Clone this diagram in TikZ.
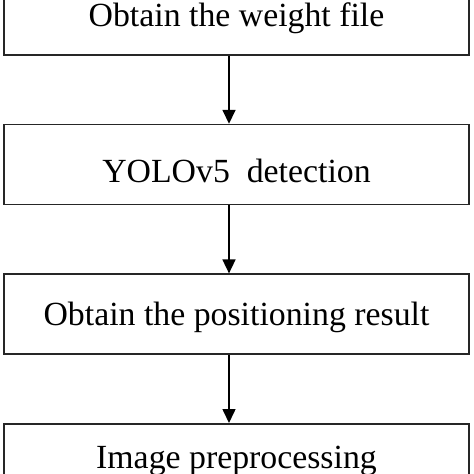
\documentclass[tikz,border=0pt]{standalone}
\usepackage{fontspec}
\setmainfont{Liberation Serif}
\usetikzlibrary{positioning,arrows.meta}

\begin{document}
\begin{tikzpicture}[x=1pt, y=1pt, node distance={68pt}, line width=1.6pt, >={Triangle[width=13pt,length=14pt]},
  main/.style = {draw=black!85, rectangle, minimum width=465pt, minimum height=80pt, inner sep=0pt, text height=23pt, text depth=0pt, font=\fontsize{33.8}{40}\selectfont}]
\useasboundingbox (0,0) rectangle (474,-474);
\clip (0,0) rectangle (474,-474);
\node[main] (1) at (236.5,-15) {Obtain the weight file};
\node[main, text height=35pt] (2) [below=of 1] {YOLOv5\ \ detection};
\node[main] (3) [below=of 2] {Obtain the positioning result};
\node[main, text depth=13pt] (4) [below=of 3] {Image preprocessing};
\draw[->] ([xshift=-7.5pt]1.south) -- ([xshift=-7.5pt]2.north);
\draw[->] ([xshift=-7.5pt]2.south) -- ([xshift=-7.5pt]3.north);
\draw[->] ([xshift=-7.5pt]3.south) -- ([xshift=-7.5pt]4.north);
\end{tikzpicture}
\end{document}
